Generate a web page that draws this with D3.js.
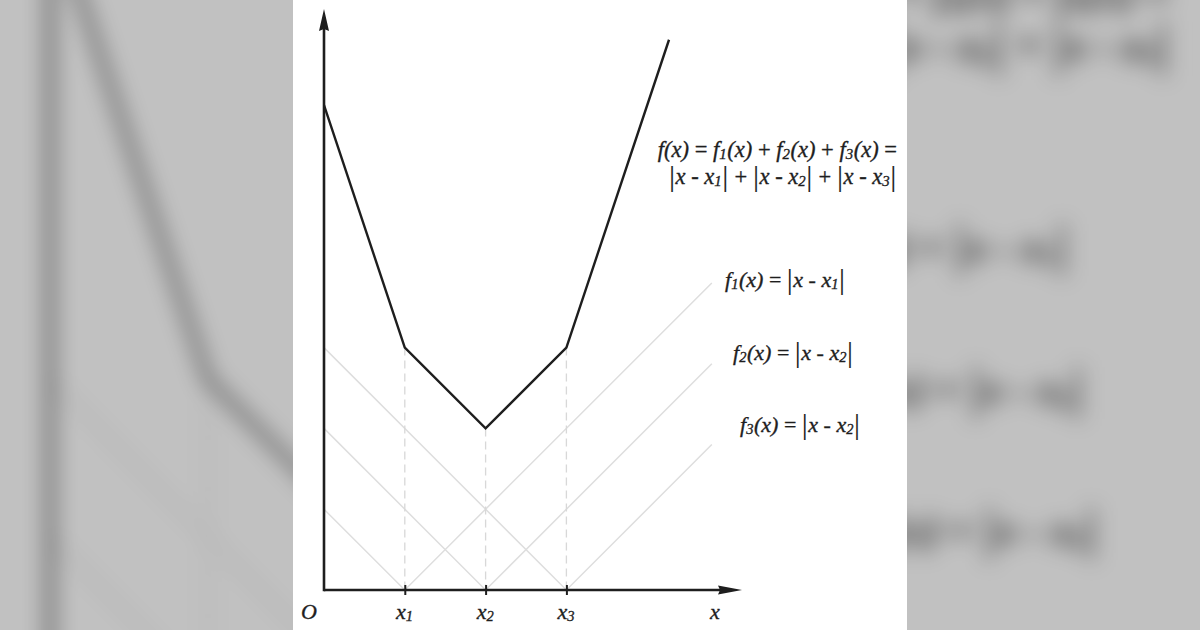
<!DOCTYPE html>
<html><head><meta charset="utf-8">
<script src="https://cdn.jsdelivr.net/npm/d3@7"></script>
<style>html,body{margin:0;padding:0;background:#c1c1c1;}svg{display:block;}
text{font-family:"Liberation Serif","Times New Roman",Times,"DejaVu Serif",serif;}</style>
</head><body>
<svg id="svg" width="1200" height="630"></svg>
<script>
// ---- data ----
const knots = [1, 2, 3];                 // x1, x2, x3
const knotLabels = ["1", "2", "3"];
const fX = [0, 1, 2, 3, 4.27];           // f(x) = f1+f2+f3
const fY = [6, 3, 2, 3, 6.81];
const knotF = [3, 2, 3];                 // f at x1, x2, x3
const f1X = [0, 1, 4.8], f1Y = [1, 0, 3.8];
const f2X = [0, 2, 4.8], f2Y = [2, 0, 2.8];
const f3X = [0, 3, 4.8], f3Y = [3, 0, 1.8];
const labelSub = ["1", "2", "2"];        // subscripts shown in the component labels (as in the original)

const svg = d3.select("#svg");
const defs = svg.append("defs");
const flt = defs.append("filter").attr("id", "bg").attr("x", "-20%").attr("y", "-20%").attr("width", "140%").attr("height", "140%")
  .attr("color-interpolation-filters", "sRGB");
flt.append("feGaussianBlur").attr("stdDeviation", 5.5).attr("result", "b");
flt.append("feColorMatrix").attr("type", "matrix")
  .attr("values", "0.755 0 0 0 0  0 0.755 0 0 0  0 0 0.755 0 0  0 0 0 1 0");

svg.append("rect").attr("width", 1200).attr("height", 630).attr("fill", "#c1c1c1");
svg.append("use").attr("href", "#chart")
  .attr("transform", "translate(-583,-300) scale(1.954)")
  .attr("filter", "url(#bg)");

const chart = defs.append("g").attr("id", "chart");
svg.append("use").attr("href", "#chart");

chart.append("rect").attr("x", 293).attr("y", 0).attr("width", 614).attr("height", 630).attr("fill", "#fff");

const x = d3.scaleLinear().domain([0, 5.2]).range([324, 324 + 5.2 * 80.8]);
const y = d3.scaleLinear().domain([0, 7.18]).range([590, 590 - 7.18 * 80.8]);
const line = d3.line().x(d => x(d[0])).y(d => y(d[1]));

// component lines
[[f1X, f1Y], [f2X, f2Y], [f3X, f3Y]].forEach(([xs, ys]) => {
  chart.append("path").attr("d", line(d3.zip(xs, ys)))
    .attr("fill", "none").attr("stroke", "#dedede").attr("stroke-width", 1.5);
});
// dashed verticals
knots.forEach((k, i) => {
  chart.append("line").attr("x1", x(k)).attr("x2", x(k)).attr("y1", y(knotF[i])).attr("y2", y(0))
    .attr("stroke", "#d8d8d8").attr("stroke-width", 1.3).attr("stroke-dasharray", "8,5");
});
// main curve
chart.append("path").attr("d", line(d3.zip(fX, fY)))
  .attr("fill", "none").attr("stroke", "#1e1e1e").attr("stroke-width", 2.4).attr("stroke-linejoin", "miter");

// axes
const axCol = "#1e1e1e";
const xAxis = d3.axisBottom(x).tickValues(knots).tickSize(5).tickFormat("");
const gx = chart.append("g").attr("transform", `translate(0,${y(0)})`).call(xAxis);
gx.select(".domain").remove();
gx.selectAll(".tick line").attr("stroke", axCol).attr("stroke-width", 2).attr("y1", -5).attr("y2", 5);
chart.append("line").attr("x1", x(0)).attr("x2", 724).attr("y1", y(0)).attr("y2", y(0)).attr("stroke", axCol).attr("stroke-width", 2.6);
chart.append("line").attr("x1", x(0)).attr("x2", x(0)).attr("y1", y(0) + 1.3).attr("y2", 28).attr("stroke", axCol).attr("stroke-width", 2.6);
chart.append("path").attr("d", `M742,${y(0)} L718,${y(0) - 4.5} L720,${y(0)} L718,${y(0) + 4.5} Z`).attr("fill", axCol);
chart.append("path").attr("d", `M${x(0)},9 L${x(0) - 5},31 L${x(0)},29 L${x(0) + 5},31 Z`).attr("fill", axCol);

// text helper
function rich(g, px, py, parts, anchor, size) {
  const t = g.append("text").attr("x", px).attr("y", py).attr("text-anchor", anchor)
    .attr("font-size", size)
    .attr("fill", "#1e1e1e").attr("stroke", "#1e1e1e").attr("stroke-width", 0.35);
  parts.forEach(([s, kind]) => {
    if (kind === "s") {
      t.append("tspan").text(s).attr("font-size", size * 0.66).attr("font-style", "italic").attr("dy", size * 0.1);
      t.append("tspan").text("\u200A").attr("dy", -size * 0.1).attr("font-size", size * 0.3);
    } else if (kind === "b") {
      t.append("tspan").text(s).attr("font-size", size * 1.35).attr("font-style", "normal").attr("dy", size * 0.08).attr("stroke-width", 0.1);
      t.append("tspan").text("\u200A").attr("dy", -size * 0.08).attr("font-size", size * 0.3);
    } else if (kind === "i") {
      t.append("tspan").text(s).attr("font-style", "italic");
    } else {
      t.append("tspan").text(s);
    }
  });
  return t;
}

// tick labels
knots.forEach((k, i) => {
  rich(chart, x(k), 619, [["x", "i"], [knotLabels[i], "s"]], "middle", 22);
});
rich(chart, 309, 619, [["O", "i"]], "middle", 22);
rich(chart, 715, 619, [["x", "i"]], "middle", 22);

// main formula
rich(chart, 897, 157, [["f", "i"], ["(x)", "i"], [" = ", "n"], ["f", "i"], ["1", "s"], ["(x)", "i"], [" + ", "n"],
  ["f", "i"], ["2", "s"], ["(x)", "i"], [" + ", "n"], ["f", "i"], ["3", "s"], ["(x)", "i"], [" =", "n"]], "end", 22.5);
rich(chart, 897, 184, [["|", "b"], ["x", "i"], [" - ", "n"], ["x", "i"], ["1", "s"], ["|", "b"], [" + ", "n"],
  ["|", "b"], ["x", "i"], [" - ", "n"], ["x", "i"], ["2", "s"], ["|", "b"], [" + ", "n"],
  ["|", "b"], ["x", "i"], [" - ", "n"], ["x", "i"], ["3", "s"], ["|", "b"]], "end", 22.5);

// component labels
const lblX = [725, 733, 740], lblY = [287, 360, 432];
["1", "2", "3"].forEach((n, i) => {
  rich(chart, lblX[i], lblY[i], [["f", "i"], [n, "s"], ["(x)", "i"], [" = ", "n"], ["|", "b"], ["x", "i"], [" - ", "n"],
    ["x", "i"], [labelSub[i], "s"], ["|", "b"]], "start", 22);
});
</script>
</body></html>
